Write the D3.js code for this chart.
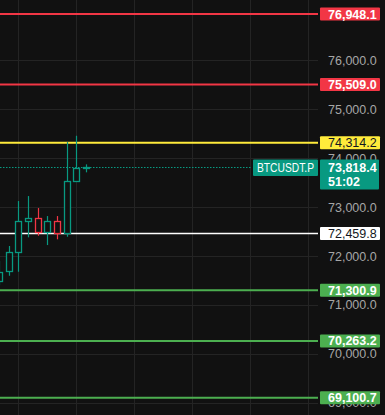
<!DOCTYPE html>
<html>
<head>
<meta charset="utf-8">
<script src="https://cdn.jsdelivr.net/npm/d3@7"></script>
<style>
  html, body { margin: 0; padding: 0; background: #111111; }
  svg { display: block; }
  text { font-family: "Liberation Sans", Arial, sans-serif; font-size: 12.5px; }
</style>
</head>
<body>
<svg id="chart"></svg>
<script>
'use strict'

// candles (oldest first)
const opens = [71498, 71682, 72075, 72709, 72770, 72476, 72709, 72463, 73533, 73810]
const highs = [71897, 72204, 73124, 73226, 72981, 72817, 72817, 74330, 74459, 73874]
const lows = [71400, 71596, 71678, 72382, 72414, 72224, 72341, 72394, 73520, 73711]
const closes = [71678, 72075, 72709, 72770, 72476, 72709, 72463, 73533, 73799, 73818.4]

// horizontal price levels
const levels = [76948.1, 75509.0, 74314.2, 72459.8, 71300.9, 70263.2, 69100.7]
const levelKinds = ['target', 'target', 'trigger', 'entry', 'stop', 'stop', 'stop']

const priceTicks = [69000, 70000, 71000, 72000, 73000, 74000, 75000, 76000]
const symbol = 'BTCUSDT.P'
const lastPrice = 73818.4
const countdown = '51:02'

const width = 385
const height = 415
const plotRight = 318
const axisLeft = 320

const bg = '#111111'
const up = '#089981'
const down = '#f23645'
const kindStyle = {
  target: { line: '#f23645', box: '#f23645', text: '#ffffff', w: 2 },
  trigger: { line: '#ffeb3b', box: '#ffeb3b', text: '#131722', w: 2 },
  entry: { line: '#ffffff', box: '#ffffff', text: '#131722', w: 1.3 },
  stop: { line: '#4caf50', box: '#4caf50', text: '#ffffff', w: 2 }
}

const svg = d3.select('#chart').attr('width', width).attr('height', height)
svg.append('rect').attr('width', width).attr('height', height).attr('fill', bg)

const y = d3.scaleLinear().domain([69000, 77000]).range([402.7, 11.5])
const x = d3.scaleLinear().domain([0, 33]).range([0, 319])
const fmt = d3.format(',.1f')

// grid
const grid = svg.append('g').attr('stroke', '#242424').attr('stroke-width', 1)
grid.selectAll('line.h')
  .data(priceTicks)
  .enter().append('line')
  .attr('x1', 0).attr('x2', plotRight)
  .attr('y1', (d) => Math.round(y(d)) + 0.5)
  .attr('y2', (d) => Math.round(y(d)) + 0.5)
grid.selectAll('line.v')
  .data([2, 8, 14, 20, 26, 32])
  .enter().append('line')
  .attr('y1', 0).attr('y2', height)
  .attr('x1', (d) => Math.round(x(d)) - 0.5)
  .attr('x2', (d) => Math.round(x(d)) - 0.5)

// price axis
const axis = d3.axisRight(y)
  .tickValues(priceTicks)
  .tickFormat(fmt)
  .tickSize(0)
  .tickPadding(8)
const ax = svg.append('g').attr('transform', `translate(${axisLeft},0)`).call(axis)
ax.select('.domain').remove()
ax.selectAll('text').attr('fill', '#a6a6a6').style('font-size', '12.5px')
  .style('font-family', '"Liberation Sans", Arial, sans-serif')

// level lines
svg.append('g').selectAll('line')
  .data(levels)
  .enter().append('line')
  .attr('x1', 0).attr('x2', plotRight)
  .attr('y1', (d) => y(d)).attr('y2', (d) => y(d))
  .attr('stroke', (d, i) => kindStyle[levelKinds[i]].line)
  .attr('stroke-width', (d, i) => kindStyle[levelKinds[i]].w)

// last price dotted line
svg.append('line')
  .attr('x1', 0).attr('x2', 252)
  .attr('y1', Math.round(y(lastPrice)) + 0.5).attr('y2', Math.round(y(lastPrice)) + 0.5)
  .attr('stroke', up).attr('stroke-width', 1.2)
  .attr('stroke-dasharray', '1.5,1.5')

// candles
const candles = opens.map((o, i) => ({ i, o, h: highs[i], l: lows[i], c: closes[i] }))
const cg = svg.append('g').selectAll('g')
  .data(candles)
  .enter().append('g')
const col = (d) => d.c >= d.o ? up : down
const cx = (d) => Math.round(x(d.i)) - 0.5
cg.append('line')
  .attr('x1', cx).attr('x2', cx)
  .attr('y1', (d) => y(d.h)).attr('y2', (d) => y(d.l))
  .attr('stroke', col).attr('stroke-width', 1.2)
cg.append('rect')
  .attr('x', (d) => cx(d) - 3)
  .attr('width', 6)
  .attr('y', (d) => Math.round(y(Math.max(d.o, d.c))) + 0.5)
  .attr('height', (d) => Math.max(1, Math.round(Math.abs(y(d.o) - y(d.c)))))
  .attr('fill', bg)
  .attr('stroke', col).attr('stroke-width', 1.3)

// level labels on the price scale
const lab = svg.append('g').selectAll('g')
  .data(levels)
  .enter().append('g')
  .attr('transform', (d) => `translate(${axisLeft},${y(d)})`)
lab.append('rect')
  .attr('x', 0).attr('y', -6.5).attr('width', 60).attr('height', 13)
  .attr('rx', 1)
  .attr('fill', (d, i) => kindStyle[levelKinds[i]].box)
lab.append('text')
  .attr('x', 8).attr('y', 0.5)
  .attr('dominant-baseline', 'central')
  .attr('font-weight', (d, i) => levelKinds[i] === 'target' || levelKinds[i] === 'stop' ? 'bold' : 'normal')
  .attr('fill', (d, i) => kindStyle[levelKinds[i]].text)
  .text((d) => fmt(d))

// current price label
const ly = y(lastPrice)
const cur = svg.append('g')
cur.append('rect')
  .attr('x', axisLeft).attr('y', ly - 7.7).attr('width', 59).attr('height', 30)
  .attr('rx', 1).attr('fill', up)
cur.append('text')
  .attr('x', axisLeft + 8).attr('y', ly + 0.5)
  .attr('dominant-baseline', 'central').attr('fill', '#ffffff').attr('font-weight', 'bold')
  .text(fmt(lastPrice))
cur.append('text')
  .attr('x', axisLeft + 8).attr('y', ly + 14.5)
  .attr('dominant-baseline', 'central').attr('fill', '#ffffff').attr('font-weight', 'bold')
  .text(countdown)
cur.append('rect')
  .attr('x', 253).attr('y', ly - 7.7).attr('width', 65).attr('height', 16.5)
  .attr('rx', 1).attr('fill', up)
cur.append('text')
  .attr('x', 257).attr('y', ly + 0.8)
  .attr('dominant-baseline', 'central').attr('fill', '#ffffff')
  .attr('textLength', 57).attr('lengthAdjust', 'spacingAndGlyphs')
  .text(symbol)
</script>
</body>
</html>
